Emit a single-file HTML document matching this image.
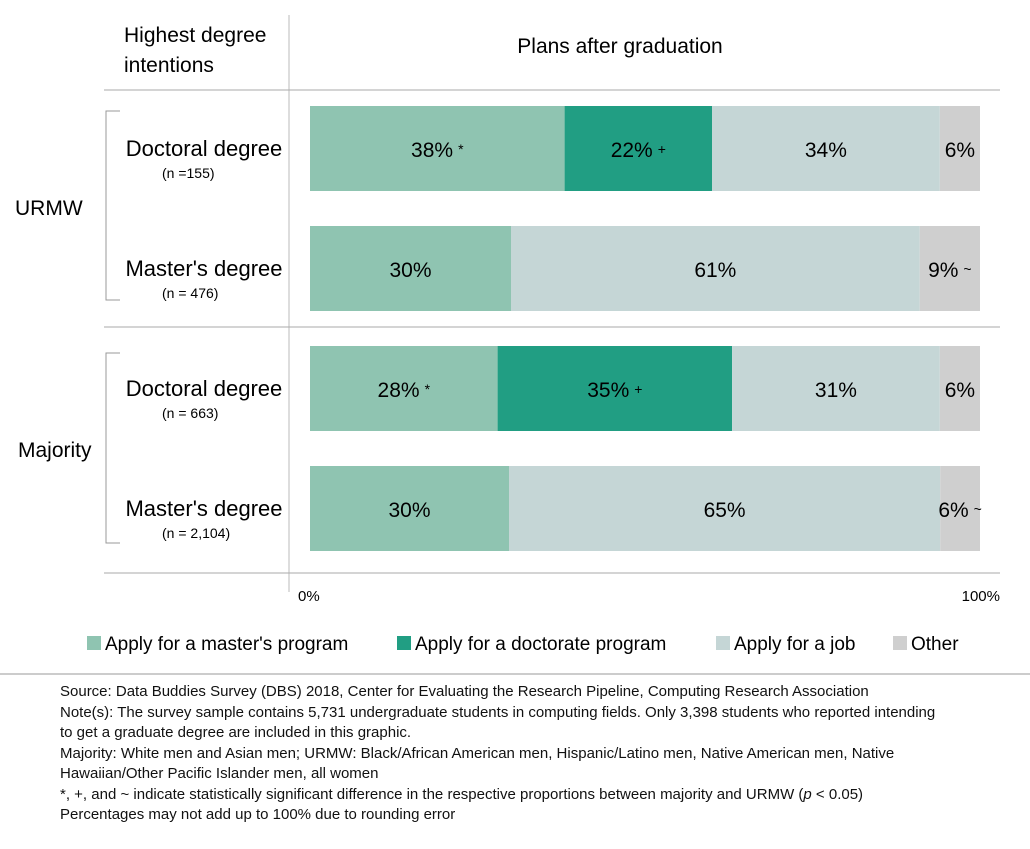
<!DOCTYPE html>
<html><head><meta charset="utf-8"><style>
body{margin:0;background:#fff;width:1030px;height:844px;overflow:hidden;font-family:"Liberation Sans",sans-serif;color:#111}
svg text{font-family:"Liberation Sans",sans-serif}
</style></head><body>
<svg width="1030" height="844" id="c">
<line x1="289" y1="15" x2="289" y2="592" stroke="#bbb"/>
<line x1="104" y1="90" x2="1000" y2="90" stroke="#aaa"/>
<line x1="104" y1="327" x2="1000" y2="327" stroke="#aaa"/>
<line x1="104" y1="573" x2="1000" y2="573" stroke="#aaa"/>
<line x1="0" y1="674" x2="1030" y2="674" stroke="#999"/>
<text x="124" y="42" font-size="21">Highest degree</text>
<text x="124" y="72" font-size="21">intentions</text>
<text x="620" y="53" font-size="21" text-anchor="middle">Plans after graduation</text>
<path d="M120,111 H106 V300 H120" fill="none" stroke="#999"/>
<path d="M120,353 H106 V543 H120" fill="none" stroke="#999"/>
<text x="15" y="215" font-size="21">URMW</text>
<text x="18" y="457" font-size="21">Majority</text>
<text x="298" y="601" font-size="15">0%</text>
<text x="1000" y="601" font-size="15" text-anchor="end">100%</text>
<g id="bars"></g>
<g id="legend"></g>
</svg>
<div style="position:absolute;left:60px;top:682px;font-size:15px;line-height:20.5px;color:#111">
Source: Data Buddies Survey (DBS) 2018, Center for Evaluating the Research Pipeline, Computing Research Association<br>
Note(s): The survey sample contains 5,731 undergraduate students in computing fields. Only 3,398 students who reported intending<br>to get a graduate degree are included in this graphic.<br>
Majority: White men and Asian men; URMW: Black/African American men, Hispanic/Latino men, Native American men, Native<br>Hawaiian/Other Pacific Islander men, all women<br>
*, +, and ~ indicate statistically significant difference in the respective proportions between majority and URMW (<i>p</i> &lt; 0.05)<br>
Percentages may not add up to 100% due to rounding error</div>
<script>
const rows = ["Doctoral degree","Master's degree","Doctoral degree","Master's degree"];
const nLabels = ["(n =155)","(n = 476)","(n = 663)","(n = 2,104)"];
const masters = [38,30,28,30];
const doctorate = [22,0,35,0];
const job = [34,61,31,65];
const other = [6,9,6,6];
const marks = [["*","+","",""],["","","","~"],["*","+","",""],["","","","~"]];
const seriesNames = ["Apply for a master's program","Apply for a doctorate program","Apply for a job","Other"];
const colors = ["#8fc4b1","#219e83","#c5d6d6","#cfcfcf"];
const X0=310,X1=980,rowY=[106,226,346,466],BH=85;
const NS="http://www.w3.org/2000/svg";
const g=document.getElementById('bars');
const series=[masters,doctorate,job,other];
rows.forEach((r,i)=>{
  const t=document.createElementNS(NS,'text');
  t.setAttribute('x',204);t.setAttribute('y',rowY[i]+50);t.setAttribute('font-size',22);t.setAttribute('text-anchor','middle');
  
  
  t.textContent=r;g.appendChild(t);
  const n=document.createElementNS(NS,'text');
  n.setAttribute('x',162);n.setAttribute('y',rowY[i]+72);n.setAttribute('font-size',14);
  
  
  n.textContent=nLabels[i];g.appendChild(n);
  const tot=series.reduce((s,a)=>s+a[i],0);
  let x=X0;
  series.forEach((a,k)=>{
    const v=a[i]; if(!v) return;
    const w=v/tot*(X1-X0);
    const rc=document.createElementNS(NS,'rect');
    rc.setAttribute('x',x);rc.setAttribute('y',rowY[i]);rc.setAttribute('width',w);rc.setAttribute('height',BH);rc.setAttribute('fill',colors[k]);
    
    
    g.appendChild(rc);
    const lb=document.createElementNS(NS,'text');
    lb.setAttribute('x',x+w/2);lb.setAttribute('y',rowY[i]+51);lb.setAttribute('font-size',21);lb.setAttribute('text-anchor','middle');
    
    
    lb.textContent=v+'%';
    if(marks[i][k]){
      const sp=document.createElementNS(NS,'tspan');
      sp.setAttribute('font-size',14);sp.setAttribute('dx',5);sp.setAttribute('dy',-3);
      sp.textContent=marks[i][k];lb.appendChild(sp);
    }
    g.appendChild(lb);
    x+=w;
  });
});
const lg=document.getElementById('legend');
const lx=[87,397,716,893];
seriesNames.forEach((s,k)=>{
  const r=document.createElementNS(NS,'rect');
  r.setAttribute('x',lx[k]);r.setAttribute('y',636);r.setAttribute('width',14);r.setAttribute('height',14);r.setAttribute('fill',colors[k]);
  
  
  lg.appendChild(r);
  const t=document.createElementNS(NS,'text');
  t.setAttribute('x',lx[k]+18);t.setAttribute('y',650);t.setAttribute('font-size',19);
  
  
  t.textContent=s;lg.appendChild(t);
});
</script>
</body></html>
